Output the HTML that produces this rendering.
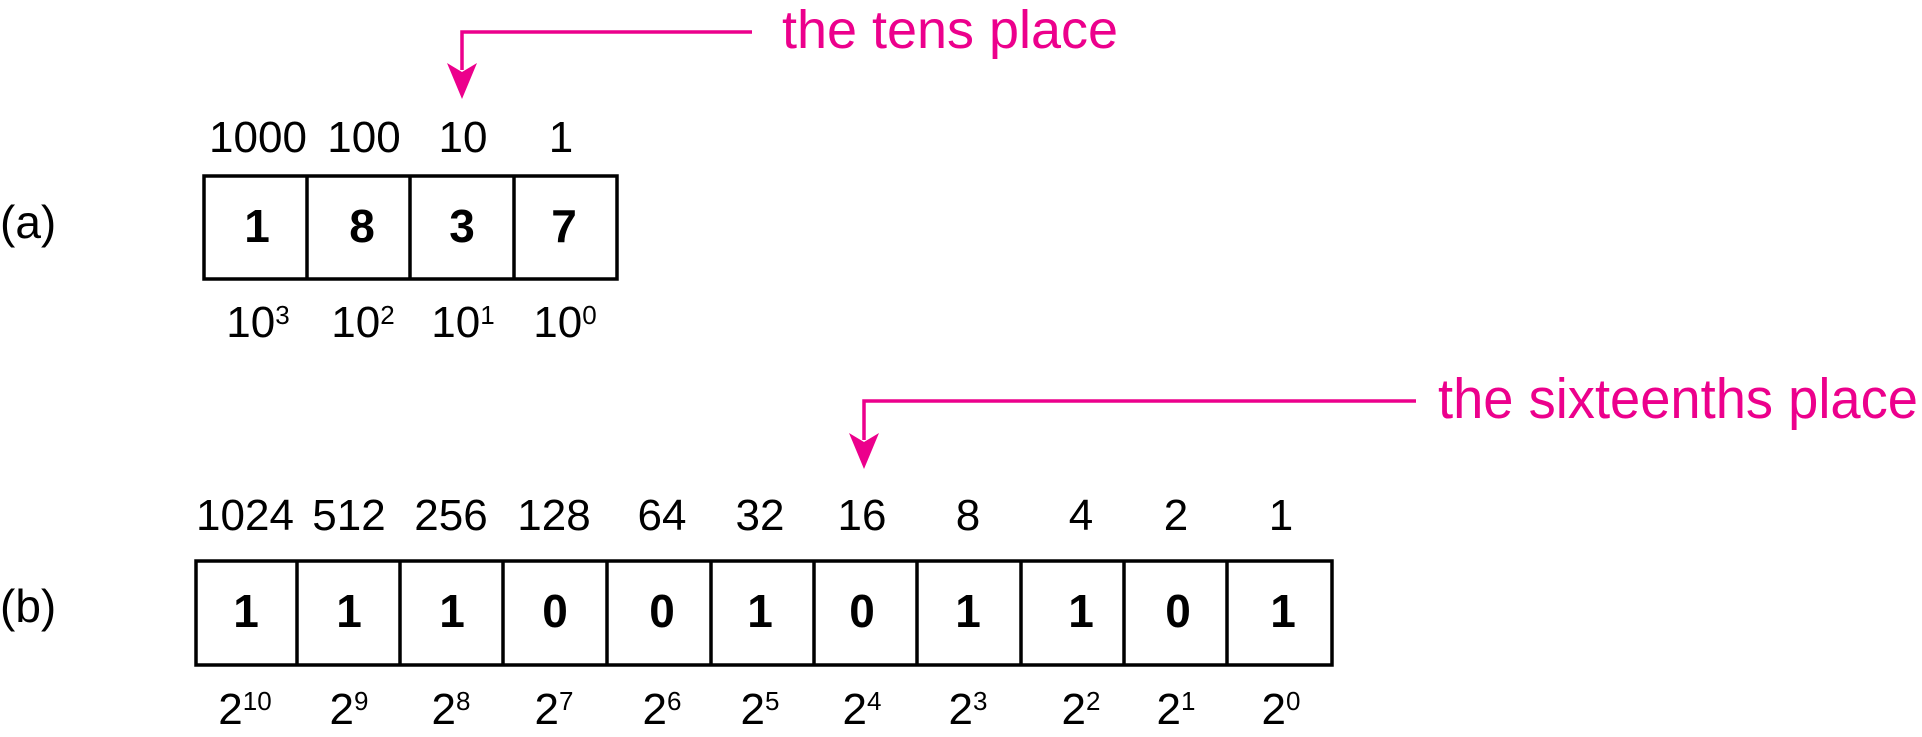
<!DOCTYPE html>
<html><head><meta charset="utf-8"><style>
html,body{margin:0;padding:0;background:#fff;}
svg{display:block;}
text{font-family:"Liberation Sans",sans-serif;}
</style></head><body>
<svg width="1922" height="737" viewBox="0 0 1922 737" xmlns="http://www.w3.org/2000/svg">
<!-- arrow a -->
<g fill="none" stroke="#ec008c" stroke-width="3.5">
<polyline points="752,32 462,32 462,70"/>
<polyline points="1416,401 864,401 864,440"/>
</g>
<g fill="#ec008c">
<polygon points="447,63 462,72 477,63 462,99"/>
<polygon points="849,433 864,442 879,433 864,469"/>
<text x="782" y="48" font-size="54" textLength="336" lengthAdjust="spacingAndGlyphs">the tens place</text>
<text x="1438" y="418" font-size="57" textLength="480" lengthAdjust="spacingAndGlyphs">the sixteenths place</text>
</g>

<!-- labels -->
<text x="0" y="238" font-size="46">(a)</text>
<text x="0" y="622" font-size="46">(b)</text>

<!-- box a -->
<g fill="none" stroke="#000" stroke-width="3.5">
<rect x="204" y="176" width="413" height="103"/>
<line x1="307" y1="176" x2="307" y2="279"/>
<line x1="410" y1="176" x2="410" y2="279"/>
<line x1="514" y1="176" x2="514" y2="279"/>
</g>
<g font-size="44" text-anchor="middle">
<text x="258" y="152">1000</text>
<text x="364" y="152">100</text>
<text x="463" y="152">10</text>
<text x="561" y="152">1</text>
</g>
<g font-size="46" font-weight="bold" text-anchor="middle">
<text x="257" y="242">1</text>
<text x="362" y="242">8</text>
<text x="462" y="242">3</text>
<text x="564" y="242">7</text>
</g>
<g font-size="44" text-anchor="middle">
<text x="258" y="337">10<tspan font-size="26" dy="-13">3</tspan></text>
<text x="363" y="337">10<tspan font-size="26" dy="-13">2</tspan></text>
<text x="463" y="337">10<tspan font-size="26" dy="-13">1</tspan></text>
<text x="565" y="337">10<tspan font-size="26" dy="-13">0</tspan></text>
</g>

<!-- box b -->
<g fill="none" stroke="#000" stroke-width="3.5">
<rect x="196" y="561" width="1136" height="104"/>
<line x1="297" y1="561" x2="297" y2="665"/>
<line x1="400" y1="561" x2="400" y2="665"/>
<line x1="503" y1="561" x2="503" y2="665"/>
<line x1="607" y1="561" x2="607" y2="665"/>
<line x1="711" y1="561" x2="711" y2="665"/>
<line x1="814" y1="561" x2="814" y2="665"/>
<line x1="917" y1="561" x2="917" y2="665"/>
<line x1="1021" y1="561" x2="1021" y2="665"/>
<line x1="1124" y1="561" x2="1124" y2="665"/>
<line x1="1227" y1="561" x2="1227" y2="665"/>
</g>
<g font-size="44" text-anchor="middle">
<text x="245" y="530">1024</text>
<text x="349" y="530">512</text>
<text x="451" y="530">256</text>
<text x="554" y="530">128</text>
<text x="662" y="530">64</text>
<text x="760" y="530">32</text>
<text x="862" y="530">16</text>
<text x="968" y="530">8</text>
<text x="1081" y="530">4</text>
<text x="1176" y="530">2</text>
<text x="1281" y="530">1</text>
</g>
<g font-size="46" font-weight="bold" text-anchor="middle">
<text x="246" y="627">1</text>
<text x="349" y="627">1</text>
<text x="452" y="627">1</text>
<text x="555" y="627">0</text>
<text x="662" y="627">0</text>
<text x="760" y="627">1</text>
<text x="862" y="627">0</text>
<text x="968" y="627">1</text>
<text x="1081" y="627">1</text>
<text x="1178" y="627">0</text>
<text x="1283" y="627">1</text>
</g>
<g font-size="44" text-anchor="middle">
<text x="245" y="724">2<tspan font-size="26" dy="-14">10</tspan></text>
<text x="349" y="724">2<tspan font-size="26" dy="-14">9</tspan></text>
<text x="451" y="724">2<tspan font-size="26" dy="-14">8</tspan></text>
<text x="554" y="724">2<tspan font-size="26" dy="-14">7</tspan></text>
<text x="662" y="724">2<tspan font-size="26" dy="-14">6</tspan></text>
<text x="760" y="724">2<tspan font-size="26" dy="-14">5</tspan></text>
<text x="862" y="724">2<tspan font-size="26" dy="-14">4</tspan></text>
<text x="968" y="724">2<tspan font-size="26" dy="-14">3</tspan></text>
<text x="1081" y="724">2<tspan font-size="26" dy="-14">2</tspan></text>
<text x="1176" y="724">2<tspan font-size="26" dy="-14">1</tspan></text>
<text x="1281" y="724">2<tspan font-size="26" dy="-14">0</tspan></text>
</g>
</svg>
</body></html>
